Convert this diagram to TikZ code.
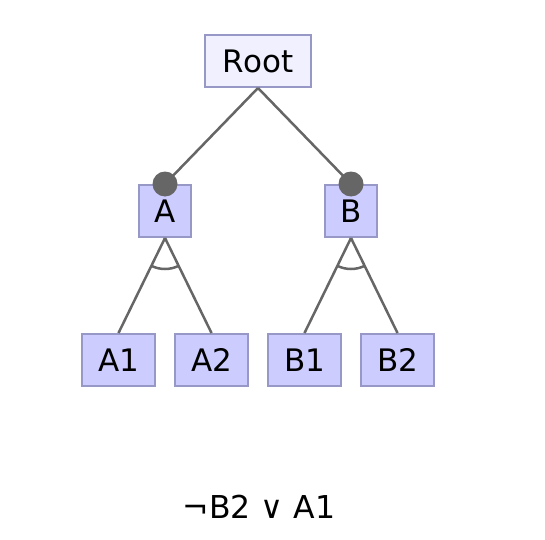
\documentclass[tikz,border=0pt]{standalone}
\usepackage{fontspec}
\setmainfont{DejaVu Sans}
\usetikzlibrary{positioning}
\definecolor{rootfill}{HTML}{F0F0FF}
\definecolor{featfill}{HTML}{CCCCFF}
\definecolor{featline}{HTML}{9898C6}
\definecolor{edgegray}{HTML}{666666}
\tikzset{
    feat/.style={rectangle, draw=featline, line width=2pt, fill=featfill, minimum width=52pt, minimum height=52pt, inner sep=0, font=\fontsize{31}{37}\selectfont},
    leaf/.style={feat, minimum width=73pt},
    top/.style={feat, fill=rootfill, minimum width=106pt},
    link/.style={draw=edgegray, line width=2.5pt},
    mand/.style={fill=edgegray},
  }
\begin{document}
\begin{tikzpicture}[x=1pt, y=1pt]
  \useasboundingbox (0,0) rectangle (545,539);
  \node (root) [top] at (258,478) {Root};
  \node (A) [feat, below=96pt of root, xshift=-93pt] {A};
  \node (B) [feat, below=96pt of root, xshift=93pt] {B};
  \node (A1) [leaf, below=95pt of A, xshift=-46.5pt] {A1};
  \node (A2) [leaf, below=95pt of A, xshift=46.5pt] {A2};
  \node (B1) [leaf, below=95pt of B, xshift=-46.5pt] {B1};
  \node (B2) [leaf, below=95pt of B, xshift=46.5pt] {B2};
  \node (rule) [font=\fontsize{31.5}{37}\selectfont] at (259,32) {¬B2 ∨ A1};

  % mandatory children
  \draw [link] (root.south) -- (A.north);
  \draw [link] (root.south) -- (B.north);
  \fill [mand] (A.north) circle (12.5pt);
  \fill [mand] (B.north) circle (12.5pt);

  % alternative groups
  \foreach \p/\l/\r in {A/A1/A2, B/B1/B2} {
    \draw [link] (\p.south) -- (\l.north);
    \draw [link] (\p.south) -- (\r.north);
    \draw [link] (\p.south) ++(243.4:31pt) arc[start angle=243.4, end angle=296.6, radius=31pt];
  }
\end{tikzpicture}
\end{document}
